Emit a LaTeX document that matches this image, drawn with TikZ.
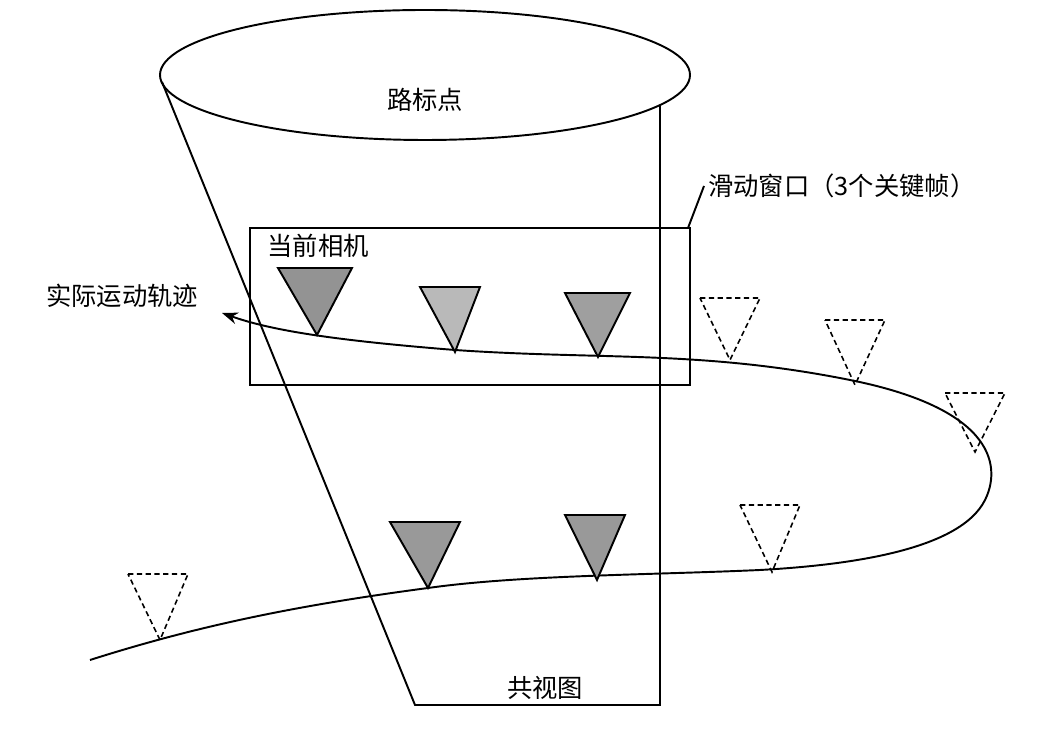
\documentclass[tikz,border=0pt]{standalone}
\usepackage{fontspec}
\newfontfamily\cjk{Noto Sans CJK SC}
\usetikzlibrary{arrows.meta}
\begin{document}
\begin{tikzpicture}[x=0.01cm,y=-0.01cm,
  lab/.style={font=\cjk\fontsize{7.2}{9}\selectfont,inner sep=1pt},
  cam/.style={draw,line width=0.55pt},
  dcam/.style={draw,dash pattern=on 1.5pt off 1pt,line width=0.45pt},
  ln/.style={line width=0.55pt}]
\useasboundingbox (0,0) rectangle (1039,731);
% cone
\draw[ln] (425,75) ellipse (265 and 65);
\coordinate (cl) at (162,82);
\coordinate (cr) at (660,105);
\coordinate (bl) at (415,705);
\coordinate (br) at (660,705);
\draw[ln] (cl) -- (bl) -- (br) -- (cr);
\node[lab] (lm) at (425,100) {路标点};
\node[lab] (cv) at (545,688) {共视图};
% window
\draw[ln] (250,228) rectangle (690,385);
\node[lab] (cur) at (318,246) {当前相机};
\node[lab,anchor=west] (sw) at (704,186) {滑动窗口（3个关键帧）};
\coordinate (wc) at (688,228);
\draw[ln] (sw.west) -- (wc);
% trajectory
\node[lab] (tr) at (122,296) {实际运动轨迹};
\coordinate (t0) at (222,313);
\draw[ln,{Stealth[length=4.5pt]}-] (t0) .. controls (270,330) and (330,340) .. (455,350)
  .. controls (600,360) and (700,350) .. (850,380)
  .. controls (1000,410) and (1000,470) .. (985,500)
  .. controls (960,550) and (850,565) .. (760,570)
  .. controls (650,575) and (520,575) .. (428,588)
  .. controls (300,605) and (200,625) .. (90,660);
% cameras
\filldraw[cam,fill=gray!85] (278,268) -- (352,268) -- (317,335) -- cycle;
\filldraw[cam,fill=gray!55] (420,287) -- (480,287) -- (455,352) -- cycle;
\filldraw[cam,fill=gray!75] (565,293) -- (630,293) -- (598,357) -- cycle;
\filldraw[cam,fill=gray!80] (390,522) -- (460,522) -- (428,588) -- cycle;
\filldraw[cam,fill=gray!80] (565,515) -- (625,515) -- (597,580) -- cycle;
\draw[dcam] (700,298) -- (760,298) -- (730,360) -- cycle;
\draw[dcam] (825,320) -- (885,320) -- (855,385) -- cycle;
\draw[dcam] (945,393) -- (1005,393) -- (975,452) -- cycle;
\draw[dcam] (740,505) -- (800,505) -- (772,572) -- cycle;
\draw[dcam] (128,574) -- (188,574) -- (160,640) -- cycle;
\end{tikzpicture}
\end{document}
